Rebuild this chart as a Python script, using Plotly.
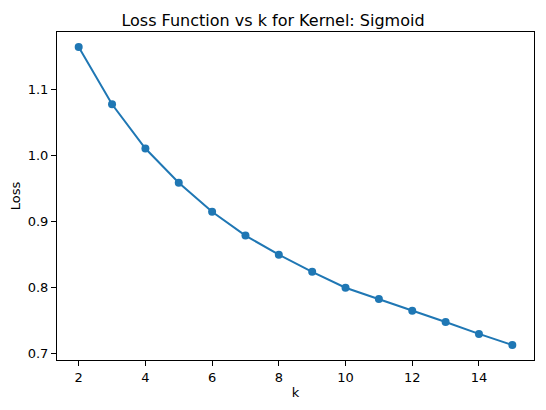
import plotly.graph_objects as go

k_values = [2, 3, 4, 5, 6, 7, 8, 9, 10, 11, 12, 13, 14, 15]
loss_values = [1.165, 1.078, 1.011, 0.959, 0.915, 0.879, 0.850, 0.824,
               0.800, 0.783, 0.765, 0.748, 0.730, 0.713]
x_ticks = [2, 4, 6, 8, 10, 12, 14]
y_ticks = [0.7, 0.8, 0.9, 1.0, 1.1]

fig = go.Figure()
fig.add_trace(go.Scatter(
    x=k_values, y=loss_values, mode="lines+markers",
    line=dict(color="#1f77b4", width=2),
    marker=dict(color="#1f77b4", size=8),
))

axis_style = dict(
    showgrid=False, zeroline=False, showline=True, mirror=True,
    linecolor="black", linewidth=1, ticks="outside", ticklen=5,
    tickcolor="black", tickfont=dict(size=13, color="black"),
    automargin=False,
)
fig.update_xaxes(range=[1.35, 15.65], tickvals=x_ticks,
                 title=dict(text="k", font=dict(size=13, color="black"), standoff=4),
                 **axis_style)
fig.update_yaxes(range=[0.6904, 1.1876], tickvals=y_ticks,
                 ticktext=["0.7", "0.8", "0.9", "1.0", "1.1"],
                 title=dict(text="Loss", font=dict(size=13, color="black"), standoff=4),
                 **axis_style)

fig.update_layout(
    width=546, height=410,
    margin=dict(l=57, r=12, t=32, b=50),
    title=dict(text="Loss Function vs k for Kernel: Sigmoid",
               x=0.5, xanchor="center", y=0.95, yanchor="middle",
               font=dict(size=16, color="black")),
    font=dict(family="DejaVu Sans"),
    plot_bgcolor="white", paper_bgcolor="white",
    showlegend=False,
)

# the page body has a default 8px margin; drop it so the figure sits at 0,0
fig.write_html("out.html", config={"displayModeBar": False},
               post_script="document.body.style.margin='0px';")
